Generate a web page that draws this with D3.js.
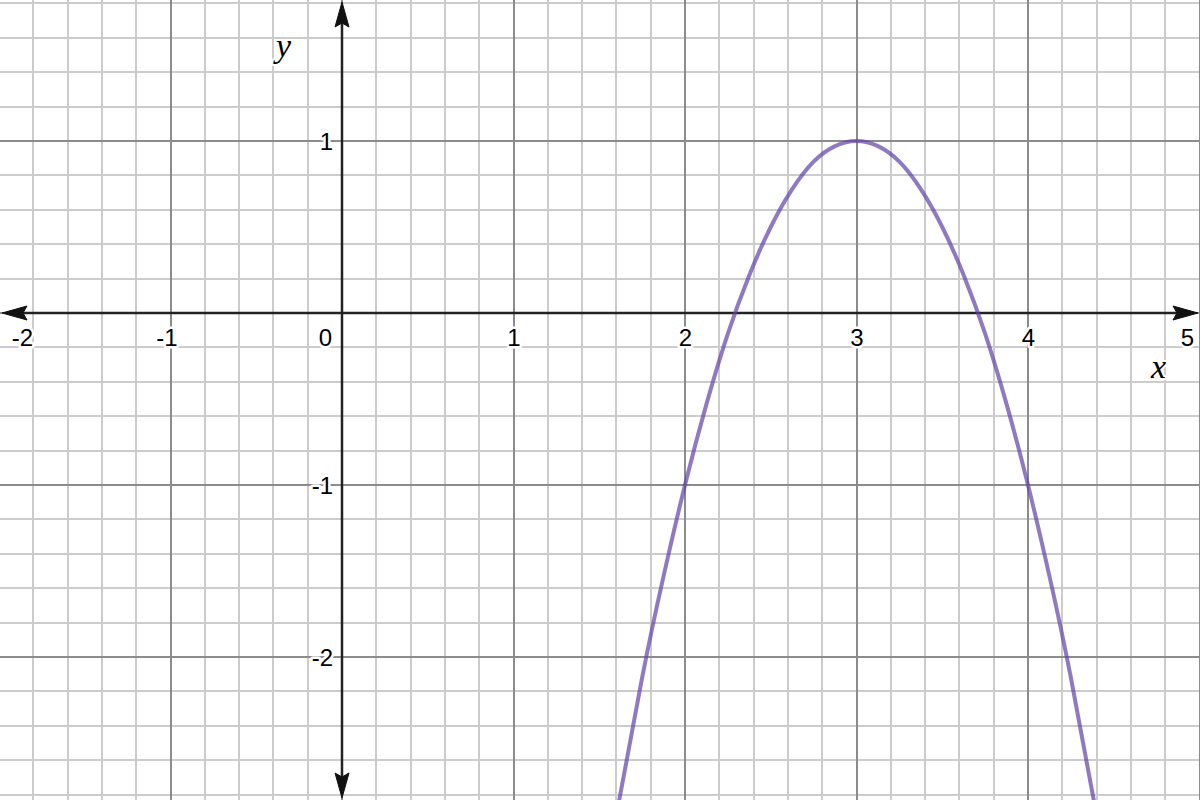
<!DOCTYPE html>
<html>
<head>
<meta charset="utf-8">
<script src="https://cdn.jsdelivr.net/npm/d3@7"></script>
<style>
  body { margin: 0; background: #fff; }
  svg { display: block; }
</style>
</head>
<body>
<script>
// tick labels
const xTicks = [-2, -1, 0, 1, 2, 3, 4, 5];
const yTicks = [-2, -1, 1];

// curve points
const curveX = [1.6, 1.75, 1.875, 2, 2.125, 2.25, 2.375, 2.5, 2.625, 2.75, 2.875, 3,
                3.125, 3.25, 3.375, 3.5, 3.625, 3.75, 3.875, 4, 4.125, 4.25, 4.4];
const curveY = [-2.92, -2.12, -1.53, -1.0, -0.53, -0.12, 0.22, 0.5, 0.72, 0.88, 0.97, 1.0,
                0.97, 0.88, 0.72, 0.5, 0.22, -0.12, -0.53, -1.0, -1.53, -2.12, -2.92];

const W = 1200, H = 800;

const x = d3.scaleLinear().domain([-2, 5]).range([-1, 1199.5]);
const y = d3.scaleLinear().domain([-2, 1]).range([657, 141]);

const svg = d3.select("body").append("svg")
              .attr("width", W)
              .attr("height", H);

//grid, minor then major
const xMin = x.invert(0), xMax = x.invert(W);
const yMin = y.invert(H), yMax = y.invert(0);

const minorX = d3.range(Math.ceil(xMin * 5), Math.floor(xMax * 5) + 1).map(d => d / 5).filter(d => Math.round(d * 5) % 5 != 0);
const minorY = d3.range(Math.ceil(yMin * 5), Math.floor(yMax * 5) + 1).map(d => d / 5).filter(d => Math.round(d * 5) % 5 != 0);
const majorX = d3.range(Math.ceil(xMin), Math.floor(xMax) + 1);
const majorY = d3.range(Math.ceil(yMin), Math.floor(yMax) + 1);

const grid = svg.append("g").attr("shape-rendering", "crispEdges");

grid.selectAll(".minor-x")
    .data(minorX)
    .join("line")
    .attr("class", "minor-x")
    .attr("x1", d => x(d)).attr("x2", d => x(d))
    .attr("y1", 0).attr("y2", H)
    .attr("stroke", "#cccccc").attr("stroke-width", 2);

grid.selectAll(".minor-y")
    .data(minorY)
    .join("line")
    .attr("class", "minor-y")
    .attr("y1", d => y(d)).attr("y2", d => y(d))
    .attr("x1", 0).attr("x2", W)
    .attr("stroke", "#cccccc").attr("stroke-width", 2);

grid.selectAll(".major-x")
    .data(majorX)
    .join("line")
    .attr("class", "major-x")
    .attr("x1", d => x(d)).attr("x2", d => x(d))
    .attr("y1", 0).attr("y2", H)
    .attr("stroke", "#8c8c8c").attr("stroke-width", 2);

grid.selectAll(".major-y")
    .data(majorY)
    .join("line")
    .attr("class", "major-y")
    .attr("y1", d => y(d)).attr("y2", d => y(d))
    .attr("x1", 0).attr("x2", W)
    .attr("stroke", "#8c8c8c").attr("stroke-width", 2);

//axes
svg.append("line")
    .attr("x1", 14).attr("x2", W - 14)
    .attr("y1", y(0)).attr("y2", y(0))
    .attr("stroke", "#222").attr("stroke-width", 2.5);

svg.append("line")
    .attr("x1", x(0)).attr("x2", x(0))
    .attr("y1", 14).attr("y2", H - 14)
    .attr("stroke", "#222").attr("stroke-width", 2.5);

const arrow = "M0,0 L-7,25 L0,21 L7,25 Z";
const arrows = [
    {tx: x(0), ty: 2, rot: 0},
    {tx: x(0), ty: H - 2, rot: 180},
    {tx: 2, ty: y(0), rot: -90},
    {tx: W - 2, ty: y(0), rot: 90}
];
svg.selectAll(".arrow")
    .data(arrows)
    .join("path")
    .attr("class", "arrow")
    .attr("d", arrow)
    .attr("transform", d => `translate(${d.tx},${d.ty}) rotate(${d.rot})`)
    .attr("fill", "#111")
    .attr("stroke", "#111")
    .attr("stroke-width", 1)
    .attr("stroke-linejoin", "round");

//the curve
svg.append("clipPath").attr("id", "plot-clip")
    .append("rect").attr("width", W).attr("height", H);

const line = d3.line()
    .x((d, i) => x(curveX[i]))
    .y(d => y(d))
    .curve(d3.curveNatural);

svg.append("path")
    .datum(curveY)
    .attr("clip-path", "url(#plot-clip)")
    .attr("d", line)
    .attr("fill", "none")
    .attr("stroke", "#6042a6")
    .attr("stroke-opacity", 0.7)
    .attr("stroke-width", 4)
    .attr("stroke-linecap", "round");

//tick labels: digit sits on the tick, minus hangs to the left
const fmt = d => d < 0 ? "-" + Math.abs(d) : String(d);

const xLabelPos = (d) => {
    if (d == -2) {
        return 26;
    } else if (d == 5) {
        return 1187;
    } else if (d == 0) {
        return x(0) - 17;
    } else {
        return x(d);
    }
};

const labelStyle = (sel) => sel
    .attr("font-family", "'Liberation Sans', Arial, sans-serif")
    .attr("font-size", 24)
    .attr("fill", "#000")
    .attr("stroke", "#fff")
    .attr("stroke-width", 5)
    .attr("stroke-linejoin", "round")
    .attr("paint-order", "stroke");

svg.selectAll(".x-label")
    .data(xTicks)
    .join("text")
    .attr("class", "x-label")
    .call(labelStyle)
    .attr("text-anchor", "end")
    .attr("x", d => xLabelPos(d) + 7)
    .attr("y", y(0) + 33)
    .text(fmt);

svg.selectAll(".y-label")
    .data(yTicks)
    .join("text")
    .attr("class", "y-label")
    .call(labelStyle)
    .attr("text-anchor", "end")
    .attr("x", x(0) - 9)
    .attr("y", d => y(d))
    .attr("dy", "0.36em")
    .text(fmt);

const nameStyle = (sel) => sel
    .attr("font-family", "'Liberation Serif', 'Times New Roman', serif")
    .attr("font-style", "italic")
    .attr("font-size", 34)
    .attr("fill", "#000")
    .attr("stroke", "#fff")
    .attr("stroke-width", 4)
    .attr("stroke-linejoin", "round")
    .attr("paint-order", "stroke");

svg.append("text")
    .call(nameStyle)
    .attr("x", 1151)
    .attr("y", 378)
    .text("x");

svg.append("text")
    .call(nameStyle)
    .attr("x", 276)
    .attr("y", 57)
    .text("y");
</script>
</body>
</html>
